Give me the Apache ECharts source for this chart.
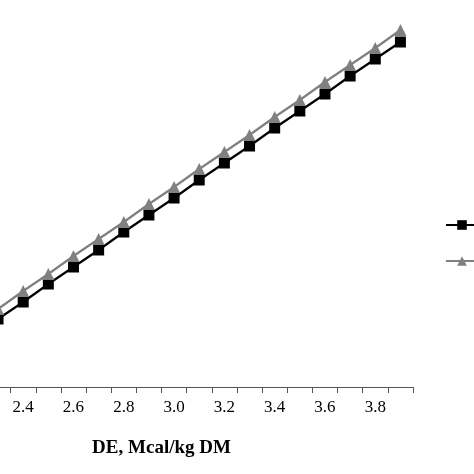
<!DOCTYPE html><html><head><meta charset="utf-8"><script src="https://cdn.jsdelivr.net/npm/echarts@6/dist/echarts.min.js"></script>
<style>html,body{margin:0;padding:0;background:#fff;overflow:hidden}#c{width:565px;height:474px;position:absolute;left:-91px;top:0}</style></head><body><div id="c"></div><script>
const categories=['2.0','2.1','2.2','2.3','2.4','2.5','2.6','2.7','2.8','2.9','3.0','3.1','3.2','3.3','3.4','3.5','3.6','3.7','3.8','3.9'];
const seriesA=[16,33,50,68,85,103,120,137,155,172,189,207,224,241,259,276,293,311,328,345];
const seriesB=[26,43,61,78,96,113,131,148,165,183,200,218,235,252,270,287,305,322,339,357];
const xTitle='DE, Mcal/kg DM';
const chart=echarts.init(document.getElementById('c'));
chart.setOption({
 animation:false,
 grid:{left:0,right:61,top:0,bottom:87},
 legend:{orient:'vertical',left:531,top:212,itemWidth:32,itemHeight:12,itemGap:20,
   textStyle:{fontFamily:'Liberation Serif',fontSize:16,color:'#000'},
   data:[{name:'Series 1'},{name:'Series 2'}]},
 xAxis:{type:'category',data:categories,boundaryGap:true,
   name:xTitle,nameLocation:'middle',nameGap:52,
   nameTextStyle:{fontFamily:'Liberation Serif',fontSize:19,fontWeight:'bold',color:'#000'},
   axisLine:{lineStyle:{color:'#555',width:1.2}},
   axisTick:{show:true,interval:0,length:6,lineStyle:{color:'#555'}},
   axisLabel:{interval:1,fontFamily:'Liberation Serif',fontSize:17,color:'#000',margin:12}},
 yAxis:{type:'value',min:0,max:387,show:false},
 series:[
  {name:'Series 1',type:'line',data:seriesA,symbol:'rect',symbolSize:11,
   itemStyle:{color:'#000'},lineStyle:{color:'#000',width:2.2}},
  {name:'Series 2',type:'line',data:seriesB,symbol:'triangle',symbolSize:12,
   itemStyle:{color:'#808080'},lineStyle:{color:'#808080',width:2.2}}
 ]
});
</script></body></html>
